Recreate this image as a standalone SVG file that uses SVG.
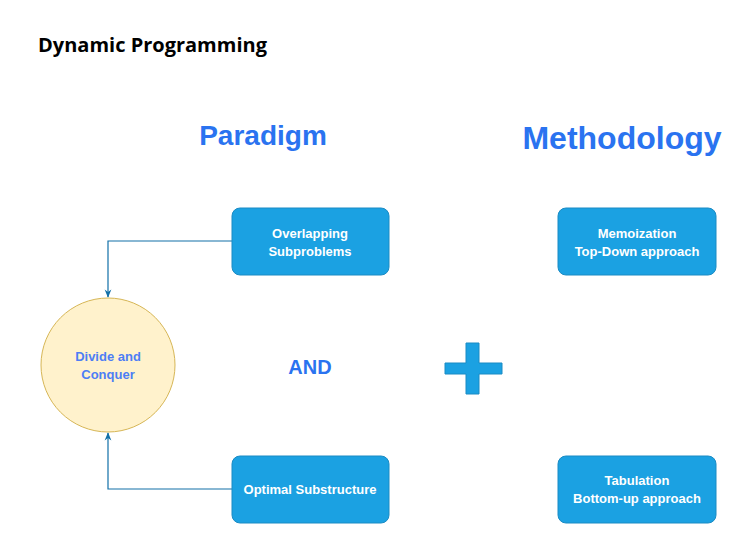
<svg xmlns="http://www.w3.org/2000/svg" width="741" height="544" viewBox="0 0 741 544">
<style>
.box{fill:#1ba1e2;stroke:#1a8bc4;stroke-width:1}
.bt{font-family:"Liberation Sans",Arial,sans-serif;font-weight:bold;font-size:13px;fill:#fff;text-anchor:middle}
.h{font-family:"Liberation Sans",Arial,sans-serif;font-weight:bold;fill:#2a73f0;text-anchor:middle}
.c{fill:none;stroke:#1270a8;stroke-width:1.2}
</style>
<defs><marker id="a" viewBox="0 0 10 10" refX="9" refY="5" markerWidth="7" markerHeight="7" orient="auto"><path d="M0,1 L10,5 L0,9 L3,5 Z" fill="#1270a8"/></marker></defs>
<rect width="741" height="544" fill="#fff"/>
<text x="38" y="52" font-family="Open Sans,sans-serif" font-weight="bold" font-size="20" fill="#000">Dynamic Programming</text>
<text class="h" x="263" y="145" font-size="28">Paradigm</text>
<text class="h" x="622" y="149" font-size="32">Methodology</text>
<text class="h" x="310" y="374" font-size="20" fill="#1a7ff0">AND</text>
<g id="connectors">
<path class="c" d="M232,241 H108 V297" marker-end="url(#a)"/>
<path class="c" d="M232,489 H108 V433" marker-end="url(#a)"/>
</g>
<g id="overlap"><rect class="box" x="232" y="208" width="157" height="67" rx="8"/><text class="bt" x="310" y="238">Overlapping</text><text class="bt" x="310" y="256">Subproblems</text></g>
<g id="optimal"><rect class="box" x="232" y="456" width="157" height="67" rx="8"/><text class="bt" x="310" y="494">Optimal Substructure</text></g>
<g id="memo"><rect class="box" x="558" y="208" width="158" height="67" rx="8"/><text class="bt" x="637" y="238">Memoization</text><text class="bt" x="637" y="256">Top-Down approach</text></g>
<g id="tab"><rect class="box" x="558" y="456" width="158" height="67" rx="8"/><text class="bt" x="637" y="485">Tabulation</text><text class="bt" x="637" y="503">Bottom-up approach</text></g>
<g id="divide"><circle cx="108" cy="365" r="67" fill="#fff2cc" stroke="#d6b656" stroke-width="1"/><text class="bt" x="108" y="361" fill="#4d7ef5" style="fill:#4d7ef5">Divide and</text><text class="bt" x="108" y="379" style="fill:#4d7ef5">Conquer</text></g>
<g id="plus"><path d="M466,343 H479 V363 H502 V374 H479 V394 H466 V374 H445 V363 H466 Z" fill="#1ba1e2" stroke="#1a8bc4"/></g>
</svg>
